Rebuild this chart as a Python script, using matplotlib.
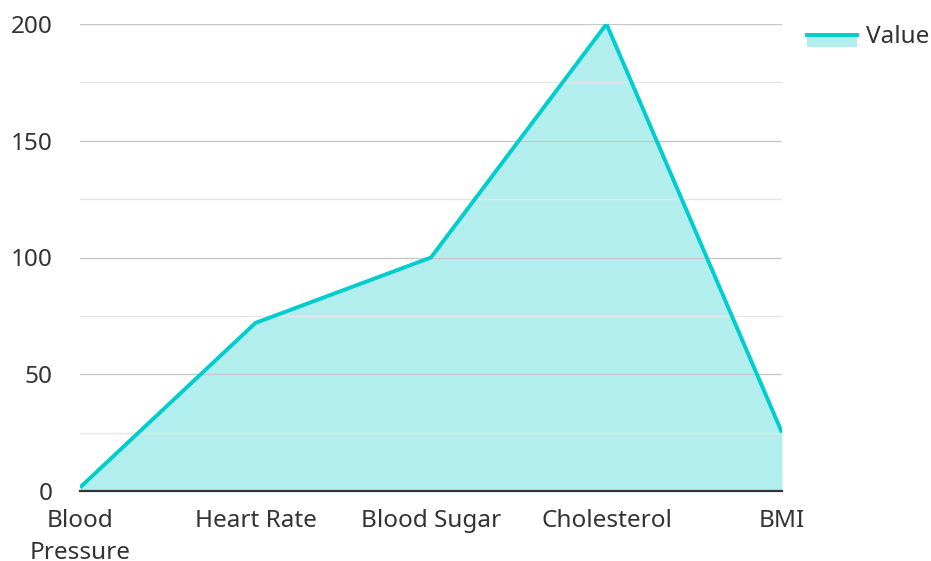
import matplotlib
matplotlib.use("Agg")
import matplotlib.pyplot as plt
from matplotlib.lines import Line2D
from matplotlib.patches import Rectangle

plt.rcParams['font.family'] = ['Noto Sans', 'DejaVu Sans']

categories = ["Blood\nPressure", "Heart Rate", "Blood Sugar", "Cholesterol", "BMI"]
values = [1.5, 72, 100, 200, 25]
series_name = "Value"

line_col = "#00cdcd"
fill_col = "#b2eeee"
text_col = "#333333"

fig = plt.figure(figsize=(9.31, 5.61), dpi=100)
ax = fig.add_axes([80 / 931, 1 - 491 / 561, 702 / 931, 467 / 561])

x = list(range(len(categories)))
ax.fill_between(x, values, 0, color=fill_col, lw=0, zorder=1)
ax.plot(x, values, color=line_col, lw=2.8, zorder=3, solid_capstyle='butt')

ax.set_xlim(0, len(categories) - 1)
ax.set_ylim(0, 200)
ax.set_yticks([0, 50, 100, 150, 200])
ax.set_yticks([25, 75, 125, 175], minor=True)
ax.grid(which='major', axis='y', color='#c8c8c8', lw=1, zorder=2)
ax.grid(which='minor', axis='y', color='#e6e6e6', lw=1, zorder=2)
ax.set_axisbelow(False)

ax.set_xticks(x)
ax.set_xticklabels(categories, linespacing=1.45)
ax.tick_params(axis='both', which='both', length=0, labelsize=17.5, colors=text_col)
ax.tick_params(axis='x', pad=13)
ax.tick_params(axis='y', pad=19.5)
for lab in ax.get_yticklabels():
    lab.set_horizontalalignment('right')

for s in ['top', 'right', 'left']:
    ax.spines[s].set_visible(False)
ax.spines['bottom'].set_color('#333333')
ax.spines['bottom'].set_linewidth(1.6)
ax.spines['bottom'].set_zorder(4)

# legend drawn by hand: line on top of a filled swatch
fig.add_artist(Rectangle((807 / 931, 1 - 47 / 561), 50 / 931, 11 / 561,
                         transform=fig.transFigure, color=fill_col, lw=0))
fig.add_artist(Line2D([807 / 931, 857 / 931], [1 - 35 / 561, 1 - 35 / 561],
                      transform=fig.transFigure, color=line_col, lw=2.8))
fig.text(866 / 931, 1 - 37 / 561, series_name, fontsize=17.5, color=text_col,
         va='center', ha='left')

fig.savefig("out.png", dpi=100)
